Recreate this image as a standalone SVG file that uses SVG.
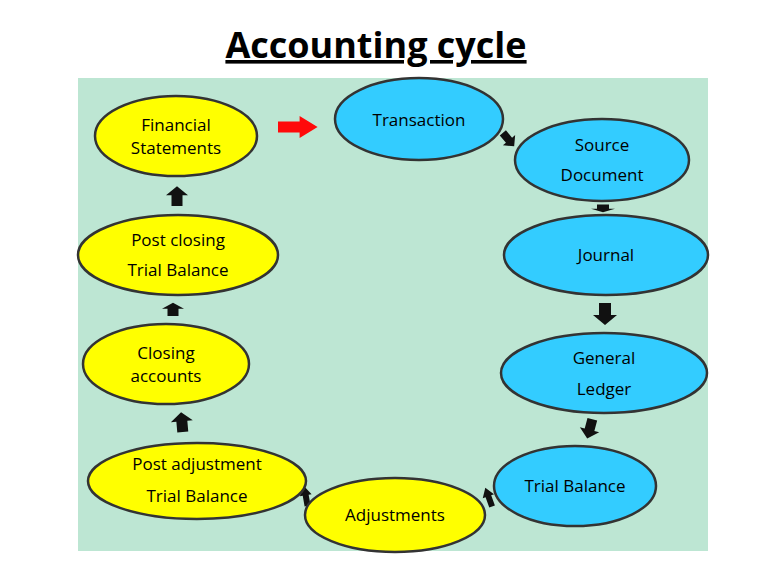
<svg xmlns="http://www.w3.org/2000/svg" width="768" height="576" viewBox="0 0 768 576">
<style>
.t{font-family:"Open Sans","Liberation Sans",sans-serif;font-size:17px;fill:#000;text-anchor:middle}
.y{fill:#ffff00;stroke:#333;stroke-width:2.5}
.b{fill:#33ccff;stroke:#333;stroke-width:2.5}
.a{fill:#111}
</style>
<defs><path id="arr" d="M-10,-5 H2 V-10 L12,0 L2,10 V5 H-10 Z"/></defs>
<rect width="768" height="576" fill="#fff"/>
<text x="376" y="58" font-family="Open Sans, Liberation Sans, sans-serif" font-size="36" font-weight="bold" text-anchor="middle" text-decoration="underline">Accounting cycle</text>
<rect x="78" y="78" width="630" height="473" fill="#bde6d3"/>
<g id="connectors">
<use href="#arr" transform="translate(296,127) scale(1.8,1.1)" fill="#ff0a0a"/>
<use href="#arr" class="a" transform="translate(508,139) rotate(50) scale(0.8)"/>
<use href="#arr" class="a" transform="translate(603,208) rotate(90) scale(0.35,1.2)"/>
<use href="#arr" class="a" transform="translate(605,313) rotate(90) scale(1,1.2)"/>
<use href="#arr" class="a" transform="translate(590,428) rotate(105) scale(0.9,1)"/>
<use href="#arr" class="a" transform="translate(489,498) rotate(-110) scale(0.9,0.6)"/>
<use href="#arr" class="a" transform="translate(306,497) rotate(-100) scale(0.9,0.6)"/>
<use href="#arr" class="a" transform="translate(182,423) rotate(-95) scale(0.9,1.1)"/>
<use href="#arr" class="a" transform="translate(173,310) rotate(-90) scale(0.6,1.1)"/>
<use href="#arr" class="a" transform="translate(177,197) rotate(-90) scale(0.9,1.1)"/>
</g>
<g id="fs"><ellipse class="y" cx="176" cy="136" rx="81" ry="40"/><text class="t" x="176" y="131">Financial</text><text class="t" x="176" y="154">Statements</text></g>
<g id="transaction"><ellipse class="b" cx="419" cy="119" rx="84" ry="41"/><text class="t" x="419" y="136" dy="-10">Transaction</text></g>
<g id="source"><ellipse class="b" cx="602" cy="160" rx="87" ry="41"/><text class="t" x="602" y="151">Source</text><text class="t" x="602" y="181">Document</text></g>
<g id="journal"><ellipse class="b" cx="606" cy="255" rx="102" ry="40"/><text class="t" x="606" y="261">Journal</text></g>
<g id="gl"><ellipse class="b" cx="604" cy="373" rx="103" ry="40"/><text class="t" x="604" y="364">General</text><text class="t" x="604" y="395">Ledger</text></g>
<g id="tb"><ellipse class="b" cx="575" cy="486" rx="81" ry="40"/><text class="t" x="575" y="492">Trial Balance</text></g>
<g id="adj"><ellipse class="y" cx="395" cy="515" rx="90" ry="37"/><text class="t" x="395" y="521">Adjustments</text></g>
<g id="pat"><ellipse class="y" cx="197" cy="481" rx="109" ry="38"/><text class="t" x="197" y="470">Post adjustment</text><text class="t" x="197" y="502">Trial Balance</text></g>
<g id="closing"><ellipse class="y" cx="166" cy="364" rx="83" ry="40"/><text class="t" x="166" y="359">Closing</text><text class="t" x="166" y="382">accounts</text></g>
<g id="pct"><ellipse class="y" cx="178" cy="255" rx="100" ry="40"/><text class="t" x="178" y="246">Post closing</text><text class="t" x="178" y="276">Trial Balance</text></g>
</svg>
